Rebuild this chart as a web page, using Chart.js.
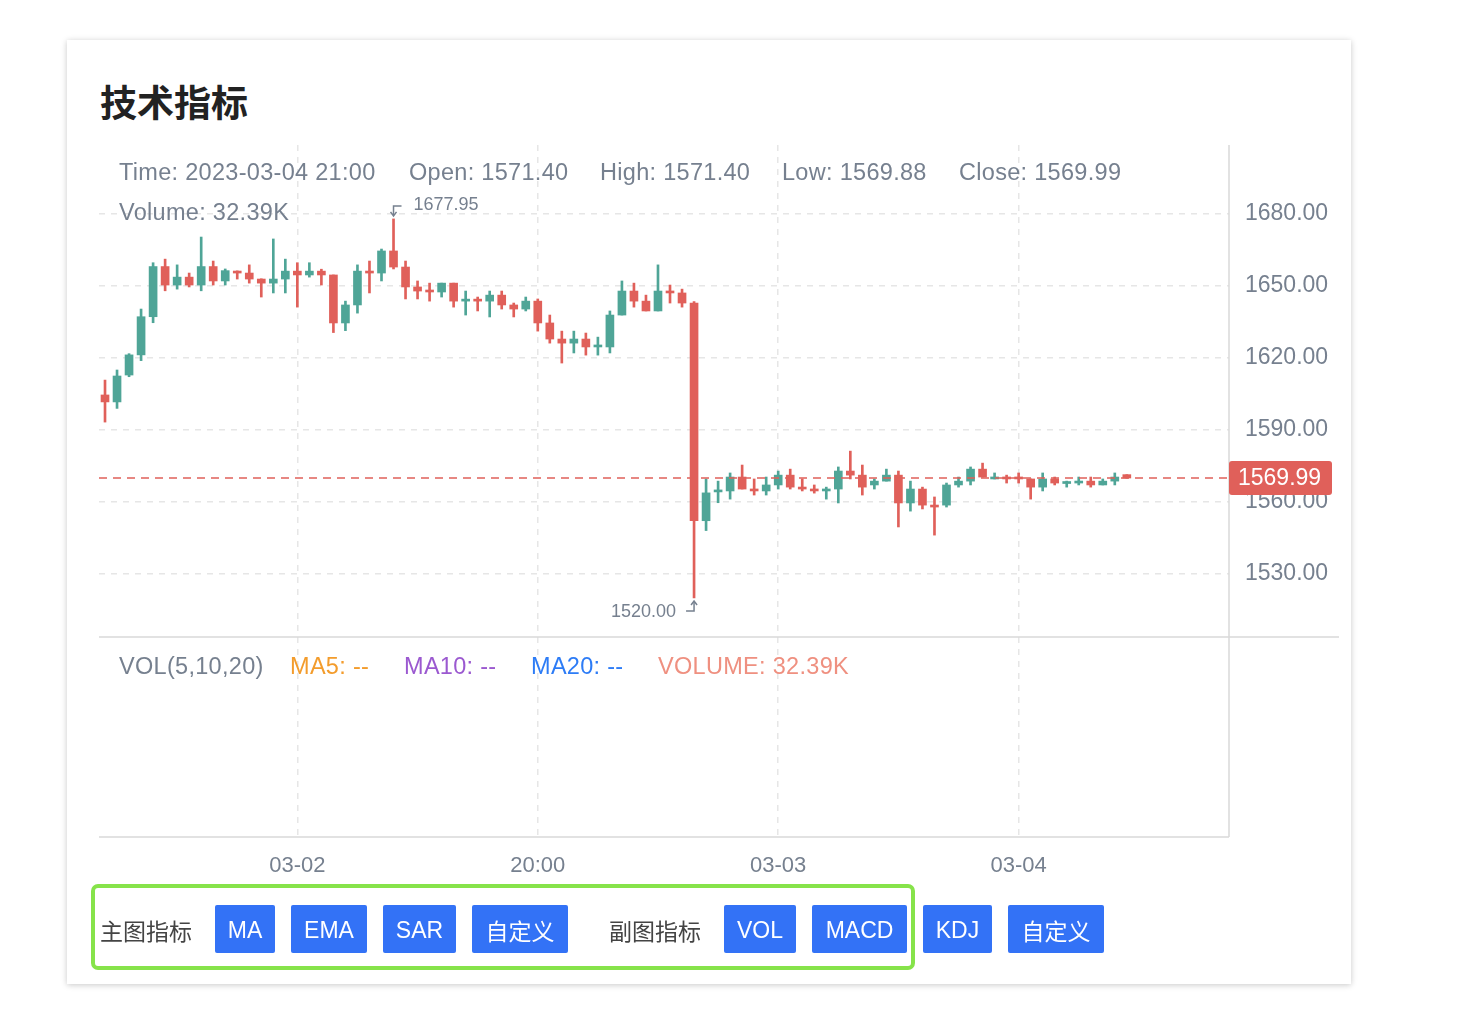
<!DOCTYPE html>
<html lang="zh">
<head>
<meta charset="UTF-8" />
<title>技术指标</title>
<script src="https://cdn.jsdelivr.net/npm/chart.js"></script>
<style>
  body { margin: 0; background: #fff; font-family: 'Liberation Sans', 'Noto Sans CJK SC', sans-serif; }
  .card { position: absolute; left: 67px; top: 40px; width: 1284px; height: 944px; background: #fff;
    box-shadow: 0 1px 6px rgba(0,0,0,0.22); }
  .abs { position: absolute; white-space: nowrap; }
  h1 { position: absolute; left: 100px; top: 74px; margin: 0; font-size: 37px; font-weight: 700; color: #222;
    font-family: 'Noto Sans CJK SC', sans-serif; }
  .info { font-size: 23.5px; letter-spacing: 0.3px; color: #76808f; }
  #wrap { position: absolute; left: 99px; top: 145px; width: 1240px; height: 740px; }
  .btn { position: absolute; top: 905px; height: 48px; line-height: 50px; background: #3372f6; color: #fff;
    font-size: 23px; text-align: center; border-radius: 2px; }
  .lbl { position: absolute; top: 915px; font-size: 23px; color: #444; font-family: 'Noto Sans CJK SC', sans-serif; line-height: 30px; }
  .box { position: absolute; left: 91px; top: 884px; width: 816px; height: 78px; border: 4px solid #86e34a; border-radius: 7px; }
</style>
</head>
<body>
<div class="card"></div>
<h1>技术指标</h1>
<div id="wrap"><canvas id="c"></canvas></div>
<div class="abs info" style="left:119px;top:159px">Time: 2023-03-04 21:00</div>
<div class="abs info" style="left:409px;top:159px">Open: 1571.40</div>
<div class="abs info" style="left:600px;top:159px">High: 1571.40</div>
<div class="abs info" style="left:782px;top:159px">Low: 1569.88</div>
<div class="abs info" style="left:959px;top:159px">Close: 1569.99</div>
<div class="abs info" style="left:119px;top:199px">Volume: 32.39K</div>
<div class="abs info" style="left:119px;top:653px">VOL(5,10,20)</div>
<div class="abs info" style="left:290px;top:653px;color:#f39c2c">MA5: --</div>
<div class="abs info" style="left:404px;top:653px;color:#9b59d0">MA10: --</div>
<div class="abs info" style="left:531px;top:653px;color:#2d7cf6">MA20: --</div>
<div class="abs info" style="left:658px;top:653px;color:#ef9080">VOLUME: 32.39K</div>
<div class="box"></div>
<div class="lbl" style="left:100px">主图指标</div>
<div class="btn" style="left:215px;width:60px">MA</div>
<div class="btn" style="left:291px;width:76px">EMA</div>
<div class="btn" style="left:383px;width:73px">SAR</div>
<div class="btn" style="left:472px;width:96px;font-family:'Noto Sans CJK SC'">自定义</div>
<div class="lbl" style="left:609px">副图指标</div>
<div class="btn" style="left:724px;width:72px">VOL</div>
<div class="btn" style="left:812px;width:95px">MACD</div>
<div class="btn" style="left:923px;width:69px">KDJ</div>
<div class="btn" style="left:1008px;width:96px;font-family:'Noto Sans CJK SC'">自定义</div>
<script>
const opens = [1604.6,1601.7,1612.9,1621.3,1637.2,1658.1,1650.4,1653.7,1650.4,1658.1,1652.1,1656.2,1655.4,1652.9,1651.2,1652.9,1656.2,1654.6,1656.2,1654.6,
  1634.6,1642.1,1656.2,1655.4,1664.6,1657.9,1649.6,1647.9,1647.5,1651.2,1643.7,1644.1,1643.7,1646.2,1642.1,1640.4,1643.7,1634.6,1627.9,1626.2,
  1627.9,1624.6,1624.6,1637.9,1647.9,1643.7,1639.6,1647.9,1647.1,1642.9,1552.2,1564.2,1564.6,1570.4,1565.4,1564.6,1567.1,1571.2,1566.2,1565.4,
  1564.6,1565.4,1572.9,1571.2,1567.1,1568.7,1571.2,1559.6,1565.4,1558.7,1558.7,1567.1,1568.7,1573.7,1569.6,1570.1,1570.1,1569.6,1566.2,1569.6,
  1567.7,1567.9,1568.7,1567.1,1568.7,1571.40];
const closes = [1601.7,1612.5,1621.3,1637.2,1658.1,1650.4,1653.7,1650.4,1658.1,1652.1,1656.4,1655.4,1652.9,1651.2,1652.9,1656.2,1654.6,1656.2,1654.6,1634.6,
  1642.1,1656.2,1655.4,1664.6,1657.9,1649.6,1647.9,1647.5,1651.2,1643.7,1644.1,1643.7,1646.2,1642.1,1640.4,1643.7,1634.6,1627.9,1626.2,1627.9,
  1624.6,1625.2,1637.9,1647.9,1643.7,1639.6,1647.9,1647.1,1642.9,1552.2,1563.8,1564.6,1570.4,1565.4,1564.6,1567.1,1571.2,1566.2,1565.4,1564.6,
  1565.4,1572.9,1571.2,1566.2,1568.7,1571.2,1559.6,1565.4,1558.7,1557.9,1567.1,1568.7,1573.7,1570.4,1570.1,1569.6,1569.6,1566.2,1569.6,1567.9,
  1568.2,1568.7,1567.1,1568.7,1570.4,1569.99];
const highs = [1610.8,1615.0,1621.8,1640.4,1659.7,1661.2,1658.8,1655.4,1670.4,1660.4,1657.1,1656.3,1658.8,1653.0,1669.6,1661.2,1659.7,1659.7,1657.0,1654.6,
  1643.7,1658.8,1660.4,1665.4,1677.95,1660.4,1652.1,1651.2,1651.2,1651.2,1647.9,1645.4,1647.9,1647.9,1642.9,1645.4,1644.6,1637.9,1631.2,1631.2,
  1630.4,1628.7,1639.6,1652.1,1651.2,1646.2,1658.8,1650.4,1648.7,1643.5,1569.6,1568.7,1572.1,1575.4,1569.6,1570.4,1572.9,1573.7,1569.6,1567.1,
  1566.2,1574.6,1581.2,1575.4,1569.6,1573.7,1572.9,1568.7,1566.2,1562.1,1567.9,1570.4,1574.6,1576.2,1572.1,1571.2,1572.1,1569.6,1572.1,1570.4,
  1568.7,1570.4,1570.4,1569.6,1572.1,1571.40];
const lows = [1593.3,1599.0,1612.2,1618.9,1634.7,1648.0,1648.7,1649.6,1648.0,1650.4,1650.4,1652.9,1651.2,1645.4,1647.1,1647.1,1641.2,1653.7,1650.4,1630.6,
  1631.4,1638.7,1647.1,1652.1,1657.1,1644.6,1644.6,1643.7,1645.4,1641.2,1637.9,1639.6,1637.1,1640.4,1637.1,1639.6,1631.2,1626.2,1617.9,1622.1,
  1621.2,1621.2,1622.1,1637.9,1641.2,1639.6,1639.6,1642.9,1641.2,1520.0,1548.1,1559.7,1561.2,1565.4,1562.9,1562.9,1565.4,1565.4,1564.6,1563.7,
  1561.2,1559.6,1569.6,1562.9,1565.4,1568.7,1549.6,1556.2,1557.1,1546.2,1557.9,1566.2,1567.1,1570.4,1569.6,1567.9,1567.9,1561.2,1564.6,1567.1,
  1566.2,1567.1,1566.2,1567.1,1567.1,1569.88];
const tickLabels = { 16: '03-02', 36: '20:00', 56: '03-03', 76: '03-04' };
const lastPrice = 1569.99;
const priceTicks = [1530, 1560, 1590, 1620, 1650, 1680];
const slots = 94;

const UP = '#4fa597', DOWN = '#e0605a';
const labels = Array.from({ length: slots }, (_, i) => tickLabels[i] || '');
const colors = opens.map((o, i) => closes[i] >= o ? UP : DOWN);
const bodies = opens.map((o, i) => [o, closes[i]]);
const wicks = lows.map((l, i) => [l, highs[i]]);
const iHigh = highs.indexOf(Math.max(...highs));
const iLow = lows.indexOf(Math.min(...lows));

const pxPer = 2.4; // px per price unit
const yMax = 1708.75, paneBottom = 1503.75, yMin = paneBottom - 200 / pxPer;
const FONT = 'Liberation Sans';

const extras = {
  id: 'extras',
  afterDraw(chart) {
    const { ctx, chartArea: a, scales: { x, y } } = chart;
    ctx.save();
    ctx.strokeStyle = '#d9d9d9'; ctx.lineWidth = 1.5;
    // axis lines
    ctx.beginPath(); ctx.moveTo(a.left, a.bottom); ctx.lineTo(a.right, a.bottom);
    ctx.moveTo(a.right, a.top); ctx.lineTo(a.right, a.bottom); ctx.stroke();
    // pane separator
    const ys = y.getPixelForValue(paneBottom);
    ctx.beginPath(); ctx.moveTo(a.left, ys); ctx.lineTo(chart.width, ys); ctx.stroke();
    // last price line
    const yp = y.getPixelForValue(lastPrice);
    ctx.strokeStyle = DOWN; ctx.setLineDash([8, 6]); ctx.lineWidth = 1.5;
    ctx.beginPath(); ctx.moveTo(a.left, yp); ctx.lineTo(a.right, yp); ctx.stroke();
    ctx.setLineDash([]);
    ctx.fillStyle = DOWN;
    ctx.beginPath(); ctx.roundRect(a.right, yp - 17, 103, 34, 3); ctx.fill();
    ctx.fillStyle = '#fff'; ctx.font = '23px "' + FONT + '"'; ctx.textBaseline = 'middle';
    ctx.fillText(lastPrice.toFixed(2), a.right + 9, yp + 1);
    // high / low marks
    ctx.strokeStyle = '#76808f'; ctx.fillStyle = '#76808f'; ctx.lineWidth = 1.5;
    ctx.font = '18px "' + FONT + '"';
    const xh = x.getPixelForValue(iHigh), yh = y.getPixelForValue(highs[iHigh]);
    ctx.beginPath(); ctx.moveTo(xh + 8, yh - 13); ctx.lineTo(xh, yh - 13); ctx.lineTo(xh, yh - 4); ctx.stroke();
    ctx.beginPath(); ctx.moveTo(xh - 3, yh - 7); ctx.lineTo(xh, yh - 3); ctx.lineTo(xh + 3, yh - 7); ctx.stroke();
    ctx.textAlign = 'left'; ctx.fillText(highs[iHigh].toFixed(2), xh + 20, yh - 14);
    const xl = x.getPixelForValue(iLow), yl = y.getPixelForValue(lows[iLow]);
    ctx.beginPath(); ctx.moveTo(xl - 8, yl + 13); ctx.lineTo(xl, yl + 13); ctx.lineTo(xl, yl + 4); ctx.stroke();
    ctx.beginPath(); ctx.moveTo(xl - 3, yl + 7); ctx.lineTo(xl, yl + 3); ctx.lineTo(xl + 3, yl + 7); ctx.stroke();
    ctx.textAlign = 'right'; ctx.fillText(lows[iLow].toFixed(2), xl - 18, yl + 14);
    ctx.restore();
  }
};

new Chart(document.getElementById('c'), {
  type: 'bar',
  data: {
    labels,
    datasets: [
      { data: wicks, backgroundColor: colors, barThickness: 2, grouped: false, order: 2, minBarLength: 1 },
      { data: bodies, backgroundColor: colors, barThickness: 8, grouped: false, order: 1, minBarLength: 2 }
    ]
  },
  options: {
    responsive: true, maintainAspectRatio: false, animation: false,
    layout: { padding: 0 },
    plugins: { legend: { display: false }, tooltip: { enabled: false } },
    scales: {
      x: {
        afterFit: s => { s.height = 48; s.paddingLeft = 0; s.paddingRight = 0; },
        border: { display: false, dash: [6, 6] },
        grid: { offset: false, color: c => labels[c.index] ? '#e6e6e6' : 'transparent', lineWidth: 1.5, drawTicks: false },
        ticks: { autoSkip: false, maxRotation: 0, color: '#76808f', font: { size: 22, family: FONT }, padding: 16,
          callback: (v, i) => labels[i] }
      },
      y: {
        position: 'right', min: yMin, max: yMax,
        afterFit: s => { s.width = 110; s.paddingTop = 0; s.paddingBottom = 0; },
        afterBuildTicks: s => { s.ticks = priceTicks.map(v => ({ value: v })); },
        border: { display: false, dash: [6, 6] },
        grid: { color: '#e6e6e6', lineWidth: 1.5, drawTicks: false },
        ticks: { color: '#76808f', font: { size: 23, family: FONT }, padding: 16, callback: v => v.toFixed(2) }
      }
    }
  },
  plugins: [extras]
});
</script>
</body>
</html>
